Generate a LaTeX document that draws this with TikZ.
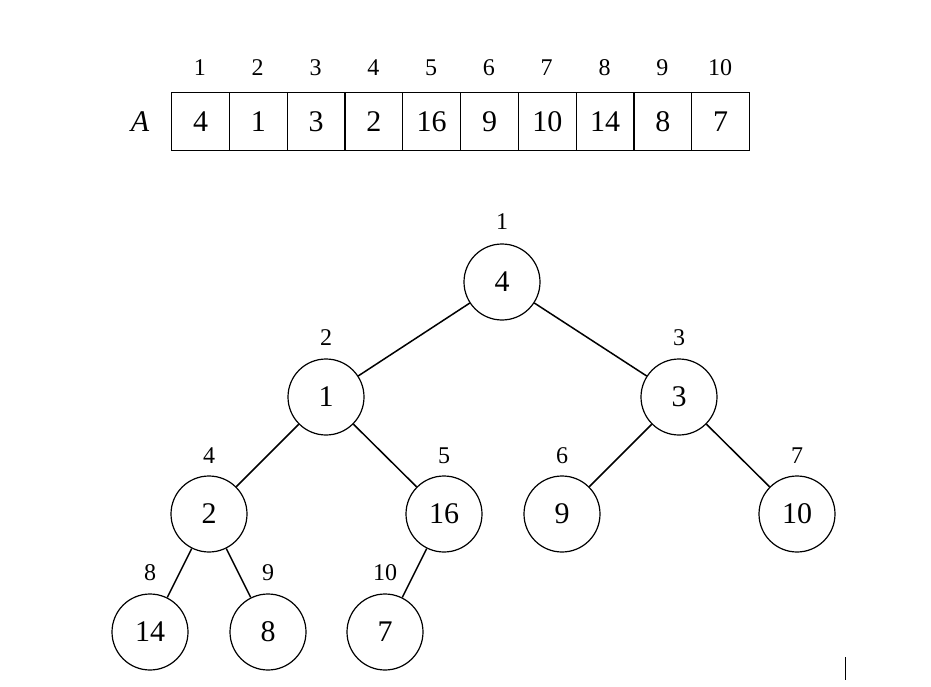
\documentclass[tikz,border=0pt]{standalone}
\usepackage{fontspec}
\setmainfont{Liberation Serif}
\begin{document}
\begin{tikzpicture}[x=1pt,y=-1pt,
  hn/.style={circle,draw,line width=1.2pt,minimum size=76pt,inner sep=0pt,font=\fontsize{30}{30}\selectfont},
  cell/.style={draw,line width=1.2pt,minimum width=57.8pt,minimum height=58pt,inner sep=0pt,anchor=north west,font=\fontsize{30}{30}\selectfont},
  idx/.style={font=\fontsize{24}{24}\selectfont},
  edge/.style={line width=1.5pt}]
\useasboundingbox (0,0) rectangle (931,687);
\node[font=\fontsize{30}{30}\itshape] (A) at (140,122) {A};
\foreach \v [count=\i] in {4,1,3,2,16,9,10,14,8,7}{
  \node[cell] (c\i) at ({171+57.8*(\i-1)},92) {\v};
  \node[idx] (k\i) at ({171+57.8*(\i-0.5)},68) {\i};
}
\node[hn] (n1) at (502,282) {4};
\node[hn] (n2) at (326,397) {1};
\node[hn] (n3) at (679,397) {3};
\node[hn] (n4) at (209,514) {2};
\node[hn] (n5) at (444,514) {16};
\node[hn] (n6) at (562,514) {9};
\node[hn] (n7) at (797,514) {10};
\node[hn] (n8) at (150,632) {14};
\node[hn] (n9) at (268,632) {8};
\node[hn] (n10) at (385,632) {7};
\foreach \i/\x/\y in {1/502/222,2/326/338,3/679/338,4/209/456,5/444/456,6/562/456,7/797/456,8/150/573,9/268/573,10/385/573}
  \node[idx] (l\i) at (\x,\y) {\i};
\foreach \a/\b in {n1/n2,n1/n3,n2/n4,n2/n5,n3/n6,n3/n7,n4/n8,n4/n9,n5/n10}
  \draw[edge] (\a) -- (\b);
\coordinate (t1) at (845,657);
\coordinate (t2) at (845,680);
\draw[line width=0.8pt] (t1) -- (t2);
\end{tikzpicture}
\end{document}
